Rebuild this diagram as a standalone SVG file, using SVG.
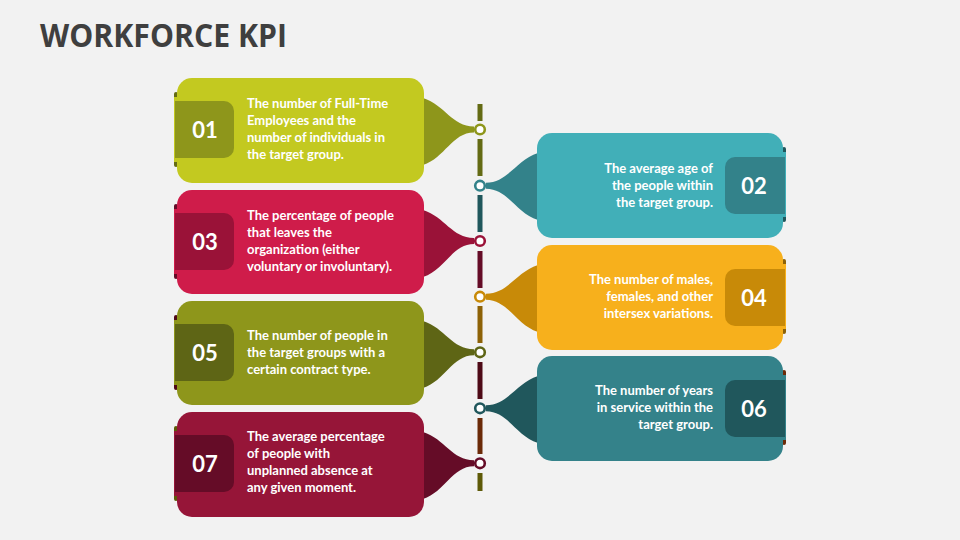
<svg xmlns="http://www.w3.org/2000/svg" width="960" height="540" viewBox="0 0 960 540">
<style>
.t{font-family:"Lato","Liberation Sans",sans-serif;font-weight:700;font-size:13px;fill:#ffffff}
.r{text-anchor:end}
.n{font-family:"Lato","Liberation Sans",sans-serif;font-weight:700;font-size:22px;fill:#ffffff;text-anchor:middle}
.ttl{font-family:"Open Sans","Liberation Sans",sans-serif;font-weight:700;font-size:32px;fill:#3f3f3f}
.ring{fill:#ffffff;stroke-width:2.6}
</style>
<rect width="960" height="540" fill="#f2f2f2"/>
<text class="ttl" x="40" y="47" textLength="247" lengthAdjust="spacingAndGlyphs">WORKFORCE KPI</text>

<g id="connectors">
  <rect x="477.5" y="104" width="5" height="17" fill="#646b14"/>
  <rect x="477.5" y="139" width="5" height="37" fill="#646b14"/>
  <rect x="477.5" y="195" width="5" height="37" fill="#20575c"/>
  <rect x="477.5" y="251" width="5" height="37" fill="#650c27"/>
  <rect x="477.5" y="306" width="5" height="37" fill="#8d6207"/>
  <rect x="477.5" y="362" width="5" height="37" fill="#4e0a17"/>
  <rect x="477.5" y="418" width="5" height="36" fill="#6b2a08"/>
  <rect x="477.5" y="473" width="5" height="18" fill="#5e5a08"/>
  <path d="M423,98 C445,105 452,126.5 474,126.5 V132.5 C452,132.5 445,158 423,165 Z" fill="#8e961b"/>
  <path d="M423,210 C445,217 452,238 474,238 V244 C452,244 445,270 423,277 Z" fill="#9a1238"/>
  <path d="M423,321 C445,328 452,349.3 474,349.3 V355.3 C452,355.3 445,381 423,388 Z" fill="#5e6515"/>
  <path d="M423,432 C445,439 452,460.3 474,460.3 V466.3 C452,466.3 445,492 423,499 Z" fill="#650c27"/>
  <path d="M538,153 C516,160 508,182.7 486,182.7 V188.7 C508,188.7 516,213 538,220 Z" fill="#33828a"/>
  <path d="M538,265 C516,272 508,293.7 486,293.7 V299.7 C508,299.7 516,325 538,332 Z" fill="#c88a08"/>
  <path d="M538,376 C516,383 508,405.3 486,405.3 V411.3 C508,411.3 516,436 538,443 Z" fill="#20575c"/>
  <circle class="ring" cx="480" cy="129.5" r="4.8" stroke="#8e961b"/>
  <circle class="ring" cx="480" cy="185.7" r="4.8" stroke="#33828a"/>
  <circle class="ring" cx="480" cy="241" r="4.8" stroke="#9a1238"/>
  <circle class="ring" cx="480" cy="296.7" r="4.8" stroke="#c88a08"/>
  <circle class="ring" cx="480" cy="352.3" r="4.8" stroke="#5e6515"/>
  <circle class="ring" cx="480" cy="408.3" r="4.8" stroke="#20575c"/>
  <circle class="ring" cx="480" cy="463.3" r="4.8" stroke="#650c27"/>
</g>

<g id="node-01">
  <rect x="174" y="92" width="4" height="75" rx="2" fill="#646b14"/>
  <rect x="174" y="97" width="4" height="65" fill="#c3c920"/>
  <rect x="177" y="78" width="247" height="105" rx="15" fill="#c3c920"/>
  <path d="M175,101 H224 A10,10 0 0 1 234,111 V148 A10,10 0 0 1 224,158 H175 Z" fill="#8e961b"/>
  <text class="n" x="205" y="137.5">01</text>
  <text class="t"><tspan x="247" y="108">The number of Full-Time</tspan><tspan x="247" y="125">Employees and the</tspan><tspan x="247" y="142">number of individuals in</tspan><tspan x="247" y="159">the target group.</tspan></text>
</g>

<g id="node-03">
  <rect x="174" y="204" width="4" height="75" rx="2" fill="#650c27"/>
  <rect x="174" y="209" width="4" height="65" fill="#cf1c4a"/>
  <rect x="177" y="190" width="247" height="104" rx="15" fill="#cf1c4a"/>
  <path d="M175,213 H224 A10,10 0 0 1 234,223 V260 A10,10 0 0 1 224,270 H175 Z" fill="#9a1238"/>
  <text class="n" x="205" y="249.5">03</text>
  <text class="t"><tspan x="247" y="220">The percentage of people</tspan><tspan x="247" y="237">that leaves the</tspan><tspan x="247" y="254">organization (either</tspan><tspan x="247" y="271">voluntary or involuntary).</tspan></text>
</g>

<g id="node-05">
  <rect x="174" y="315" width="4" height="75" rx="2" fill="#4e0a17"/>
  <rect x="174" y="320" width="4" height="65" fill="#8e961b"/>
  <rect x="177" y="301" width="247" height="104" rx="15" fill="#8e961b"/>
  <path d="M175,324 H224 A10,10 0 0 1 234,334 V371 A10,10 0 0 1 224,381 H175 Z" fill="#5e6515"/>
  <text class="n" x="205" y="360.5">05</text>
  <text class="t"><tspan x="247" y="340">The number of people in</tspan><tspan x="247" y="357">the target groups with a</tspan><tspan x="247" y="374">certain contract type.</tspan></text>
</g>

<g id="node-07">
  <rect x="174" y="426" width="4" height="75" rx="2" fill="#5e5a08"/>
  <rect x="174" y="431" width="4" height="65" fill="#961538"/>
  <rect x="177" y="412" width="247" height="105" rx="15" fill="#961538"/>
  <path d="M175,435 H224 A10,10 0 0 1 234,445 V482 A10,10 0 0 1 224,492 H175 Z" fill="#650c27"/>
  <text class="n" x="205" y="471.5">07</text>
  <text class="t"><tspan x="247" y="441">The average percentage</tspan><tspan x="247" y="458">of people with</tspan><tspan x="247" y="475">unplanned absence at</tspan><tspan x="247" y="492">any given moment.</tspan></text>
</g>

<g id="node-02">
  <rect x="782" y="147" width="4" height="75" rx="2" fill="#20575c"/>
  <rect x="782" y="152" width="4" height="65" fill="#41afb8"/>
  <rect x="537" y="133" width="246" height="105" rx="15" fill="#41afb8"/>
  <path d="M785,157 H735 A10,10 0 0 0 725,167 V204 A10,10 0 0 0 735,214 H785 Z" fill="#33828a"/>
  <text class="n" x="754" y="193.5">02</text>
  <text class="t r"><tspan x="713" y="173">The average age of</tspan><tspan x="713" y="190">the people within</tspan><tspan x="713" y="207">the target group.</tspan></text>
</g>

<g id="node-04">
  <rect x="782" y="259" width="4" height="75" rx="2" fill="#8d6207"/>
  <rect x="782" y="264" width="4" height="65" fill="#f7b01c"/>
  <rect x="537" y="245" width="246" height="105" rx="15" fill="#f7b01c"/>
  <path d="M785,269 H735 A10,10 0 0 0 725,279 V316 A10,10 0 0 0 735,326 H785 Z" fill="#c88a08"/>
  <text class="n" x="754" y="305.5">04</text>
  <text class="t r"><tspan x="713" y="284">The number of males,</tspan><tspan x="713" y="301">females, and other</tspan><tspan x="713" y="318">intersex variations.</tspan></text>
</g>

<g id="node-06">
  <rect x="782" y="370" width="4" height="75" rx="2" fill="#6b2a08"/>
  <rect x="782" y="375" width="4" height="65" fill="#34828a"/>
  <rect x="537" y="356" width="246" height="105" rx="15" fill="#34828a"/>
  <path d="M785,380 H735 A10,10 0 0 0 725,390 V427 A10,10 0 0 0 735,437 H785 Z" fill="#20575c"/>
  <text class="n" x="754" y="416.5">06</text>
  <text class="t r"><tspan x="713" y="395">The number of years</tspan><tspan x="713" y="412">in service within the</tspan><tspan x="713" y="429">target group.</tspan></text>
</g>
</svg>
